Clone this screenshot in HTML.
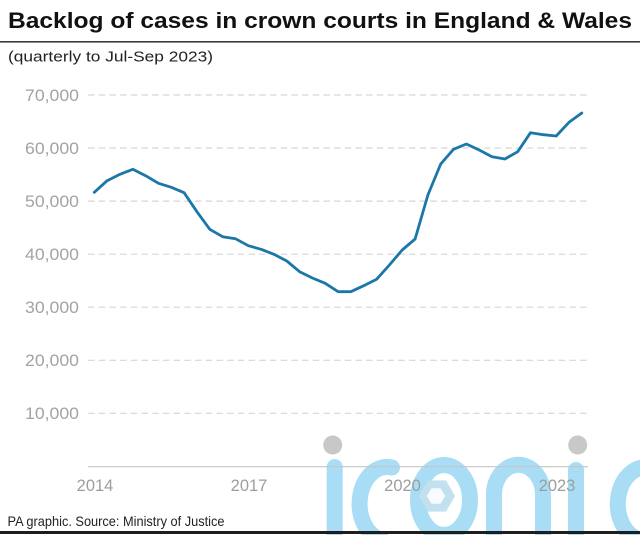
<!DOCTYPE html>
<html>
<head>
<meta charset="utf-8">
<style>
  html, body { margin:0; padding:0; background:#fff; }
  body { width:640px; height:535px; overflow:hidden; }
  svg { display:block; }
  text { font-family: "Liberation Sans", "DejaVu Sans", sans-serif; }
</style>
</head>
<body>
<svg width="640" height="535" viewBox="0 0 640 535" xmlns="http://www.w3.org/2000/svg">
  <rect x="0" y="0" width="640" height="535" fill="#ffffff"/>

  <!-- Title -->
  <text x="8" y="28" font-size="22" font-weight="bold" fill="#111" textLength="624" lengthAdjust="spacingAndGlyphs">Backlog of cases in crown courts in England &amp; Wales</text>
  <rect x="0" y="41" width="640" height="1.6" fill="#3a3a3a"/>
  <text x="8" y="61.5" font-size="15" fill="#222" textLength="205" lengthAdjust="spacingAndGlyphs">(quarterly to Jul-Sep 2023)</text>

  <!-- Watermark -->
  <g fill="none" stroke="#a9ddf5" stroke-width="16" stroke-linecap="round">
    <line x1="334.7" y1="467" x2="334.7" y2="560"/>
    <path d="M 392 467.5 A 26 35 0 1 0 382 540"/>
    <ellipse cx="444" cy="500" rx="26" ry="35"/>
    <path d="M 494 560 L 494 494.7 A 24.5 30 0 0 1 543 494.7 L 543 560"/>
    <line x1="576" y1="470" x2="576" y2="560"/>
    <path d="M 652 468 A 26 34 0 1 0 640 540"/>
  </g>
  <polygon points="455,496 446,511.6 428,511.6 419,496 428,480.4 446,480.4" fill="#c3e0ee"/>
  <polygon points="445,496 440.5,503.8 431.5,503.8 427,496 431.5,488.2 440.5,488.2" fill="#ffffff" opacity="0.9"/>
  <circle cx="332.7" cy="445" r="9.5" fill="#c8c8c8"/>
  <circle cx="577.7" cy="445" r="9.5" fill="#c8c8c8"/>

  <!-- Gridlines -->
  <g stroke="#d6d6d6" stroke-width="1.2" stroke-dasharray="6.5 4.2">
    <line x1="88" y1="95" x2="588" y2="95"/>
    <line x1="88" y1="148" x2="588" y2="148"/>
    <line x1="88" y1="201.1" x2="588" y2="201.1"/>
    <line x1="88" y1="254.2" x2="588" y2="254.2"/>
    <line x1="88" y1="307.2" x2="588" y2="307.2"/>
    <line x1="88" y1="360.3" x2="588" y2="360.3"/>
    <line x1="88" y1="413.3" x2="588" y2="413.3"/>
  </g>
  <line x1="88" y1="466.7" x2="588" y2="466.7" stroke="#c4c4c4" stroke-width="1.2"/>

  <!-- Y labels -->
  <g font-size="16.5" fill="#a3a3a3">
    <text x="25" y="100.8" textLength="54" lengthAdjust="spacingAndGlyphs">70,000</text>
    <text x="25" y="153.8" textLength="54" lengthAdjust="spacingAndGlyphs">60,000</text>
    <text x="25" y="206.9" textLength="54" lengthAdjust="spacingAndGlyphs">50,000</text>
    <text x="25" y="260" textLength="54" lengthAdjust="spacingAndGlyphs">40,000</text>
    <text x="25" y="313" textLength="54" lengthAdjust="spacingAndGlyphs">30,000</text>
    <text x="25" y="366.1" textLength="54" lengthAdjust="spacingAndGlyphs">20,000</text>
    <text x="25" y="419.1" textLength="54" lengthAdjust="spacingAndGlyphs">10,000</text>
  </g>

  <!-- X labels -->
  <g font-size="16.5" fill="#9d9d9d" text-anchor="middle">
    <text x="95" y="491">2014</text>
    <text x="249" y="491">2017</text>
    <text x="402.5" y="491">2020</text>
    <text x="557" y="491">2023</text>
  </g>

  <!-- Data line -->
  <polyline fill="none" stroke="#1c77a9" stroke-width="2.8" stroke-linejoin="round" stroke-linecap="round"
    points="94.3,192.3 107.1,180.7 120.0,174.3 132.8,169.3 145.6,175.7 158.5,183.3 171.3,187.3 184.1,192.7 196.9,211.7 209.8,229.3 222.6,236.7 235.4,238.7 248.3,245.7 261.1,249.3 273.9,254.3 286.8,261 299.6,271.7 312.4,278 325.2,283.3 338.1,291.7 350.9,291.7 363.7,285.7 376.6,279.3 389.4,265 402.2,250 415.1,239 427.9,195 440.7,164 453.5,149.3 466.4,144 479.2,150 492.0,156.7 504.9,159 517.7,151.7 530.5,132.7 543.4,134.7 556.2,136 569.0,122.3 581.8,113"/>

  <!-- Footer -->
  <text x="7.5" y="526" font-size="14" fill="#222" textLength="217" lengthAdjust="spacingAndGlyphs">PA graphic. Source: Ministry of Justice</text>
  <rect x="0" y="531" width="640" height="3" fill="#1e1e1e"/>
</svg>
</body>
</html>
